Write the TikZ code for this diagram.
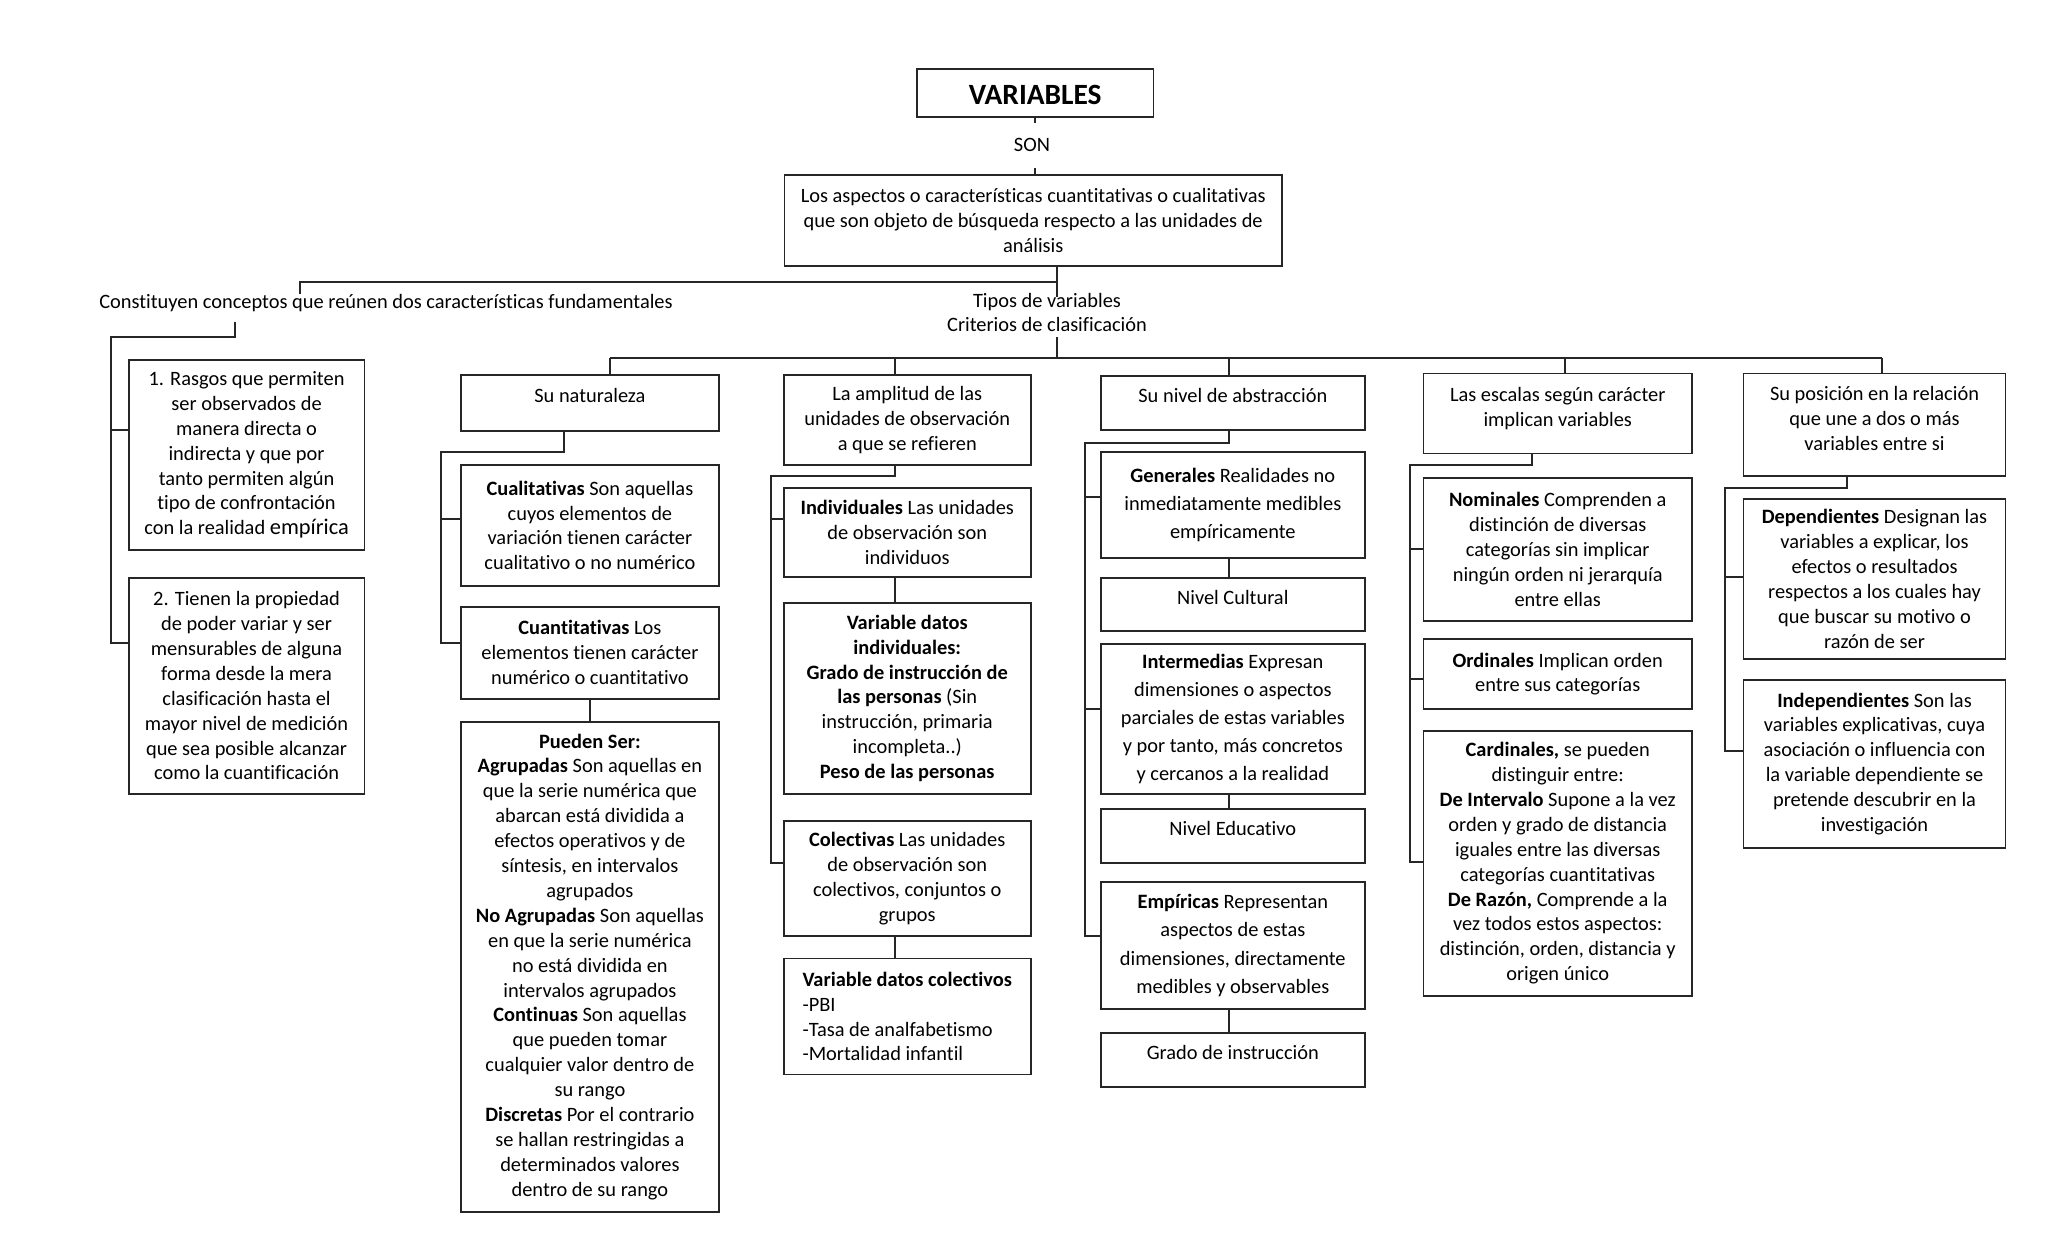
\documentclass[tikz,border=0pt]{standalone}
\usepackage{fontspec}
\setmainfont{Carlito}[Ligatures=NoCommon]

\newcommand{\fuentecaja}{\fontsize{10.2pt}{12.45pt}\selectfont}
\newcommand{\fuentealta}{\fontsize{10.2pt}{14.1pt}\selectfont}

\tikzset{
  caja/.style={draw=black!85, line width=0.9pt, anchor=north west, inner sep=0pt, align=center, font=\fuentecaja},
  unalinea/.style={text height=1.6ex, text depth=1.6ex},
  rama/.style={draw=black!85, line width=1pt},
  etiq/.style={inner sep=0pt, align=center, font=\fuentecaja}
}

\begin{document}
\begin{tikzpicture}[x=0.5pt,y=-0.5pt]
\useasboundingbox (0,0) rectangle (2048,1243);

% --- titulo y definicion ---
\node[caja, font=\fontsize{14.7pt}{16pt}\selectfont\bfseries, text height=12pt, text depth=0pt, minimum width=118.25pt, minimum height=24pt] (var) at (916,67.7) {VARIABLES};
\node[caja, minimum width=248.7pt, minimum height=45.5pt] (def) at (783.6,174) {Los aspectos o características cuantitativas o cualitativas\\que son objeto de búsqueda respecto a las unidades de\\análisis};
\draw[rama] (var.south) -- (var.south |- def.north);
\node[etiq, fill=white, minimum height=22.5pt] (son) at (1032,145) {SON};

\node[etiq] (cons) at (386,302.7) {Constituyen conceptos que reúnen dos características fundamentales};
\node[etiq] (tipos) at (1047,312.5) {Tipos de variables\\Criterios de clasificación};

% --- conceptos ---
\node[caja, minimum width=117.85pt, minimum height=95pt] (ras) at (127.8,359) {1. Rasgos que permiten\\ser observados de\\manera directa o\\indirecta y que por\\tanto permiten algún\\tipo de confrontación\\con la realidad {\fontsize{11.2pt}{12.45pt}\selectfont empírica}};
\node[caja, minimum width=117.85pt, minimum height=108.15pt] (pro) at (127.8,576.7) {2. Tienen la propiedad\\de poder variar y ser\\mensurables de alguna\\forma desde la mera\\clasificación hasta el\\mayor nivel de medición\\que sea posible alcanzar\\como la cuantificación};

% --- su naturaleza ---
\node[caja, unalinea, minimum width=129pt, minimum height=28pt] (nat) at (460,374) {Su naturaleza};
\node[caja, minimum width=129pt, minimum height=60.5pt] (cual) at (460,464) {\textbf{Cualitativas} Son aquellas\\cuyos elementos de\\variación tienen carácter\\cualitativo o no numérico};
\node[caja, minimum width=129pt, minimum height=46pt] (cuan) at (460,605.7) {\textbf{Cuantitativas} Los\\elementos tienen carácter\\numérico o cuantitativo};
\node[caja, minimum width=129pt, minimum height=245.15pt] (pue) at (460,720.7) {\textbf{Pueden Ser:}\\\textbf{Agrupadas} Son aquellas en\\que la serie numérica que\\abarcan está dividida a\\efectos operativos y de\\síntesis, en intervalos\\agrupados\\\textbf{No Agrupadas} Son aquellas\\en que la serie numérica\\no está dividida en\\intervalos agrupados\\\textbf{Continuas} Son aquellas\\que pueden tomar\\cualquier valor dentro de\\su rango\\\textbf{Discretas} Por el contrario\\se hallan restringidas a\\determinados valores\\dentro de su rango};

% --- amplitud ---
\node[caja, minimum width=123.35pt, minimum height=45pt] (amp) at (783,374.3) {La amplitud de las\\unidades de observación\\a que se refieren};
\node[caja, minimum width=123.35pt, minimum height=44.35pt] (ind) at (783,487.3) {\textbf{Individuales} Las unidades\\de observación son\\individuos};
\node[caja, minimum width=123.35pt, minimum height=95.8pt] (vdi) at (783,601.7) {\textbf{Variable datos}\\\textbf{individuales:}\\\textbf{Grado de instrucción de}\\\textbf{las personas} (Sin\\instrucción, primaria\\incompleta..)\\\textbf{Peso de las personas}};
\node[caja, minimum width=123.35pt, minimum height=57.7pt] (col) at (783,819.8) {\textbf{Colectivas} Las unidades\\de observación son\\colectivos, conjuntos o\\grupos};
\node[caja, align=left, minimum width=123.35pt, minimum height=58pt] (vdc) at (783,957.6) {\textbf{Variable datos colectivos}\\-PBI\\-Tasa de analfabetismo\\-Mortalidad infantil};

% --- abstraccion ---
\node[caja, unalinea, minimum width=131.9pt, minimum height=27pt] (abs) at (1100,375) {Su nivel de abstracción};
\node[caja, font=\fuentealta, minimum width=131.9pt, minimum height=53.3pt] (gen) at (1100,450.7) {\textbf{Generales} Realidades no\\inmediatamente medibles\\empíricamente};
\node[caja, unalinea, minimum width=131.9pt, minimum height=26.65pt] (ncul) at (1100,576.7) {Nivel Cultural};
\node[caja, font=\fuentealta, minimum width=131.9pt, minimum height=75.3pt] (inter) at (1100,642.7) {\textbf{Intermedias} Expresan\\dimensiones o aspectos\\parciales de estas variables\\y por tanto, más concretos\\y cercanos a la realidad};
\node[caja, unalinea, minimum width=131.9pt, minimum height=26.7pt] (nedu) at (1100,808.3) {Nivel Educativo};
\node[caja, font=\fuentealta, minimum width=131.9pt, minimum height=63.65pt] (emp) at (1100,881) {\textbf{Empíricas} Representan\\aspectos de estas\\dimensiones, directamente\\medibles y observables};
\node[caja, unalinea, minimum width=131.9pt, minimum height=26.7pt] (grado) at (1100,1032.3) {Grado de instrucción};

% --- escalas ---
\node[caja, minimum width=134.2pt, minimum height=40pt] (esc) at (1422.6,372.6) {Las escalas según carácter\\implican variables\\[-6pt]\mbox{}};
\node[caja, minimum width=134.2pt, minimum height=71.5pt] (nom) at (1422.6,477) {\textbf{Nominales} Comprenden a\\distinción de diversas\\categorías sin implicar\\ningún orden ni jerarquía\\entre ellas};
\node[caja, minimum width=134.2pt, minimum height=35.15pt] (ord) at (1422.6,638) {\textbf{Ordinales} Implican orden\\entre sus categorías};
\node[caja, minimum width=134.2pt, minimum height=132.65pt] (card) at (1422.6,729.7) {\textbf{Cardinales,} se pueden\\distinguir entre:\\\textbf{De Intervalo} Supone a la vez\\orden y grado de distancia\\iguales entre las diversas\\categorías cuantitativas\\\textbf{De Razón,} Comprende a la\\vez todos estos aspectos:\\distinción, orden, distancia y\\origen único};

% --- posicion ---
\node[caja, minimum width=131pt, minimum height=51.35pt] (pos) at (1742.6,372.6) {Su posición en la relación\\que une a dos o más\\variables entre si\\[-6pt]\mbox{}};
\node[caja, minimum width=131pt, minimum height=80pt] (dep) at (1742.6,498) {\textbf{Dependientes} Designan las\\variables a explicar, los\\efectos o resultados\\respectos a los cuales hay\\que buscar su motivo o\\razón de ser};
\node[caja, minimum width=131pt, minimum height=83.7pt] (indep) at (1742.6,679.3) {\textbf{Independientes} Son las\\variables explicativas, cuya\\asociación o influencia con\\la variable dependiente se\\pretende descubrir en la\\investigación};

% --- ramas principales ---
\coordinate (j0) at (1057,282);
\coordinate (jl) at (300,282);
\coordinate (jt) at (1057,297);
\draw[rama] (j0 |- def.south) -- (j0) -- (jl) -- (jl |- cons.north);
\draw[rama] (j0) -- (jt);

\coordinate (tb) at (1057,337);
\coordinate (b0) at (610,358);
\coordinate (b5) at (1881.5,358);
\draw[rama] (b0) -- (b5);
\draw[rama] (tb) -- (tb |- b0);
\foreach \n/\xx in {nat/610,amp/894.8,abs/1229.4,esc/1564.5,pos/1881.5} {
  \coordinate (t) at (\xx,358);
  \draw[rama] (t) -- (t |- \n.north);
}

% conceptos
\coordinate (lt) at (234.7,321.7);
\coordinate (lk) at (234.7,336.7);
\coordinate (l1) at (111,430);
\coordinate (l2) at (111,642.7);
\draw[rama] (lt) -- (lk) -| (l2) -- (l2 -| pro.west);
\draw[rama] (l1) -- (l1 -| ras.west);

% naturaleza
\coordinate (nk) at (563.5,451.7);
\coordinate (n1) at (440.7,519);
\coordinate (n2) at (440.7,642.7);
\draw[rama] (nk |- nat.south) -- (nk) -| (n2) -- (n2 -| cuan.west);
\draw[rama] (n1) -- (n1 -| cual.west);
\draw[rama] (cuan.south) -- (pue.north);

% amplitud
\coordinate (ak) at (894.8,475.7);
\coordinate (a1) at (771,519.3);
\coordinate (a2) at (771,862.9);
\draw[rama] (ak |- amp.south) -- (ak) -| (a2) -- (a2 -| col.west);
\draw[rama] (a1) -- (a1 -| ind.west);
\draw[rama] (ak |- ind.south) -- (ak |- vdi.north);
\draw[rama] (ak |- col.south) -- (ak |- vdc.north);

% abstraccion
\coordinate (sk) at (1229.4,443.3);
\coordinate (s1) at (1084.6,496.7);
\coordinate (s2) at (1084.6,709);
\coordinate (s3) at (1084.6,936);
\draw[rama] (sk |- abs.south) -- (sk) -| (s3) -- (s3 -| emp.west);
\draw[rama] (s1) -- (s1 -| gen.west);
\draw[rama] (s2) -- (s2 -| inter.west);
\draw[rama] (sk |- gen.south) -- (sk |- ncul.north);
\draw[rama] (sk |- inter.south) -- (sk |- nedu.north);
\draw[rama] (sk |- emp.south) -- (sk |- grado.north);

% escalas
\coordinate (ek) at (1532,465.4);
\coordinate (e1) at (1409.8,549);
\coordinate (e2) at (1409.8,679.3);
\coordinate (e3) at (1409.8,862.3);
\draw[rama] (ek |- esc.south) -- (ek) -| (e3) -- (e3 -| card.west);
\draw[rama] (e1) -- (e1 -| nom.west);
\draw[rama] (e2) -- (e2 -| ord.west);

% posicion
\coordinate (pk) at (1847.4,487.8);
\coordinate (p1) at (1725,576.6);
\coordinate (p2) at (1725,750.7);
\draw[rama] (pk |- pos.south) -- (pk) -| (p2) -- (p2 -| indep.west);
\draw[rama] (p1) -- (p1 -| dep.west);
\end{tikzpicture}
\end{document}
